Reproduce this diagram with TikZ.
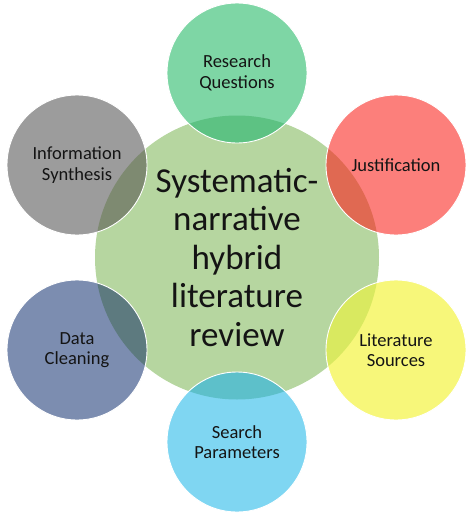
\documentclass[tikz,border=0pt]{standalone}
\usepackage{fontspec}
\setmainfont{Carlito}
\usepackage{xcolor}
\usepackage{tikz}

\definecolor{hubgreen}{RGB}{182,214,160}
\definecolor{rqcol}{RGB}{126,214,165}
\definecolor{rqdark}{RGB}{93,194,131}
\definecolor{jucol}{RGB}{252,127,123}
\definecolor{judark}{RGB}{224,105,82}
\definecolor{iscol}{RGB}{156,156,156}
\definecolor{isdark}{RGB}{126,138,113}
\definecolor{dccol}{RGB}{124,141,176}
\definecolor{dcdark}{RGB}{93,122,127}
\definecolor{lscol}{RGB}{247,247,122}
\definecolor{lsdark}{RGB}{217,233,96}
\definecolor{spcol}{RGB}{127,214,242}
\definecolor{spdark}{RGB}{93,192,202}
\definecolor{inktext}{RGB}{20,20,20}

\tikzset{
  sat/.style={circle, minimum size=140pt, inner sep=0pt, align=center,
    text=inktext, font=\fontsize{18.5}{20.5}\selectfont},
  satline/.style={draw=white, line width=0.9pt},
}

\begin{document}
\begin{tikzpicture}[x=1pt, y=-1pt]
        \useasboundingbox (0,0) rectangle (474,515);

        % hub
        \fill[hubgreen] (237,257.5) circle (142pt);
        \coordinate (hub) at (237,257.5);

        % outer circles
        \node[sat, fill=rqcol] (rq) at (237,73) {};
        \node[sat, fill=jucol] (ju) at (396,165) {};
        \node[sat, fill=lscol] (ls) at (396,350) {};
        \node[sat, fill=spcol] (sp) at (237,442) {};
        \node[sat, fill=dccol] (dc) at (77,350) {};
        \node[sat, fill=iscol] (is) at (77,165) {};

        % overlaps with the hub
        \begin{scope}
            \clip (hub) circle (142pt);
            \fill[rqdark] (rq) circle (70pt);
            \fill[judark] (ju) circle (70pt);
            \fill[lsdark] (ls) circle (70pt);
            \fill[spdark] (sp) circle (70pt);
            \fill[dcdark] (dc) circle (70pt);
            \fill[isdark] (is) circle (70pt);
        \end{scope}

        \draw[satline] (rq) circle (70pt);
        \draw[satline] (ju) circle (70pt);
        \draw[satline] (ls) circle (70pt);
        \draw[satline] (sp) circle (70pt);
        \draw[satline] (dc) circle (70pt);
        \draw[satline] (is) circle (70pt);

        % labels
        \node[sat] (rqtext) at (rq) {Research\\Questions};
        \node[sat] (jutext) at (ju) {Justification};
        \node[sat] (lstext) at (ls) {Literature\\Sources};
        \node[sat] (sptext) at (sp) {Search\\Parameters};
        \node[sat] (dctext) at (dc) {Data\\Cleaning};
        \node[sat] (istext) at (is) {Information\\Synthesis};
        \node[align=center, text=inktext, font=\fontsize{35}{38.5}\selectfont]
            (hubtext) at (hub) {Systematic-\\narrative\\hybrid\\literature\\review};
    \end{tikzpicture}
\end{document}
